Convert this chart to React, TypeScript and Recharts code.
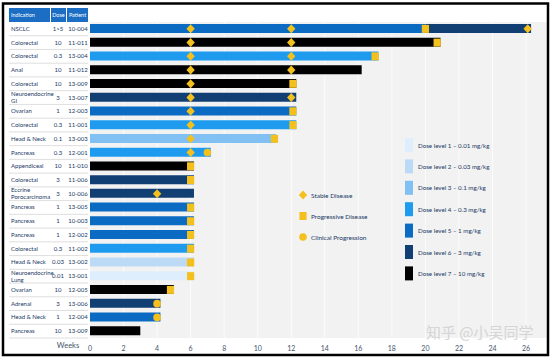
import { Bar, CartesianGrid, Cell, ComposedChart, Scatter, XAxis, YAxis } from 'recharts'

// one entry per patient row, top to bottom
const INDICATIONS = [
  'NSCLC', 'Colorectal', 'Colorectal', 'Anal', 'Colorectal', 'Neuroendocrine GI', 'Ovarian', 'Colorectal',
  'Head & Neck', 'Pancreas', 'Appendiceal', 'Colorectal', 'Eccrine Porocarcinoma', 'Pancreas', 'Pancreas',
  'Pancreas', 'Colorectal', 'Head & Neck', 'Neuroendocrine Lung', 'Ovarian', 'Adrenal', 'Head & Neck', 'Pancreas',
]
const DOSES = [
  '1>5', '10', '0.3', '10', '10', '3', '1', '0.3', '0.1', '0.3', '10', '3', '3', '1', '1', '1', '0.3', '0.03', '0.01',
  '10', '3', '1', '10',
]
const PATIENTS = [
  '10-004', '11-011', '13-004', '11-012', '13-009', '13-007', '12-003', '11-001', '13-003', '12-001', '11-010',
  '11-006', '10-006', '13-005', '10-003', '12-002', '11-002', '13-002', '13-001', '12-005', '13-006', '12-004', '13-009',
]
const DOSE_LEVELS = [5, 7, 4, 7, 7, 6, 5, 4, 3, 4, 7, 6, 6, 5, 5, 5, 4, 2, 1, 7, 6, 5, 7]
const WEEKS = [20, 20.9, 17.2, 16.2, 12.3, 12.3, 12.3, 12.3, 11.1, 7.2, 6.2, 6.2, 6.2, 6.2, 6.2, 6.2, 6.2, 6.2, 6.2, 5, 4.2, 4.2, 3]
// time after escalation to the next dose level (only 10-004)
const ESCALATED_WEEKS = [6.3, 0, 0, 0, 0, 0, 0, 0, 0, 0, 0, 0, 0, 0, 0, 0, 0, 0, 0, 0, 0, 0, 0]
const ESCALATED_LEVEL = 6

// [row, week]
const STABLE = [
  [0, 6], [0, 12], [0, 26.1], [1, 6], [1, 12], [2, 6], [2, 12], [3, 6], [3, 12], [4, 6], [5, 6], [5, 12],
  [6, 6], [7, 6], [8, 6], [9, 6], [12, 4],
]
const PROGRESSIVE = [
  [0, 20], [1, 20.7], [2, 17], [4, 12.1], [6, 12.1], [7, 12.1], [8, 11], [10, 6], [11, 6], [13, 6], [14, 6],
  [15, 6], [16, 6], [17, 6], [18, 6], [19, 4.8],
]
const CLINICAL = [[9, 7], [20, 4], [21, 4]]

const WEEK_TICKS = [0, 2, 4, 6, 8, 10, 12, 14, 16, 18, 20, 22, 24, 26]

const DOSE_LABELS = [
  'Dose level 1 – 0.01 mg/kg',
  'Dose level 2 – 0.03 mg/kg',
  'Dose level 3 – 0.1 mg/kg',
  'Dose level 4 – 0.3 mg/kg',
  'Dose level 5 – 1 mg/kg',
  'Dose level 6 – 3 mg/kg',
  'Dose level 7 – 10 mg/kg',
]
const DOSE_COLORS = ['#deeefc', '#bcdaf6', '#80c0f2', '#1e9bef', '#0b6bc2', '#123f73', '#000000']

const W = 554
const H = 360
const TOP = 22
const BOTTOM = 22
const LEFT = 90
const RIGHT = 7
const BAND = (H - TOP - BOTTOM) / INDICATIONS.length
const GOLD = '#f4c01e'
const NAVY_TEXT = '#203864'
const FONT = 'Lato, "Open Sans", sans-serif'

const rows = INDICATIONS.map((_, i) => ({
  row: String(i),
  weeks: WEEKS[i],
  extra: ESCALATED_WEEKS[i],
}))
const toPoints = (list: number[][]) => list.map(([r, w]) => ({ row: String(r), week: w }))

const Diamond = ({ cx, cy }: any) => (
  <polygon points={`${cx},${cy - 4.5} ${cx + 4.2},${cy} ${cx},${cy + 4.5} ${cx - 4.2},${cy}`} fill={GOLD} />
)
const Square = ({ cx, cy }: any) => <rect x={cx - 3.6} y={cy - 4} width={7.2} height={8} fill={GOLD} />
const Dot = ({ cx, cy }: any) => <circle cx={cx} cy={cy} r={3.8} fill={GOLD} />

const TableTick = ({ y, payload }: any) => {
  const i = Number(payload.value)
  const parts = INDICATIONS[i].split(' ')
  const twoLine = parts.length === 2 && INDICATIONS[i].length > 14
  return (
    <g fontFamily={FONT} fontSize={6} fill={NAVY_TEXT}>
      {twoLine ? (
        <text x={11} y={y}>
          <tspan x={11} dy={-1.5}>{parts[0]}</tspan>
          <tspan x={11} dy={7}>{parts[1]}</tspan>
        </text>
      ) : (
        <text x={11} y={y} dy={2}>{INDICATIONS[i]}</text>
      )}
      <text x={58} y={y} dy={2} textAnchor="middle">{DOSES[i]}</text>
      <text x={78} y={y} dy={2} textAnchor="middle">{PATIENTS[i]}</text>
      <line x1={9} x2={88} y1={y + BAND / 2} y2={y + BAND / 2} stroke="#d6d6d6" strokeWidth={0.8} />
    </g>
  )
}

const Overlay = () => (
  <svg width={W} height={H} style={{ position: 'absolute', left: 0, top: 0, pointerEvents: 'none' }}>
    <g fontFamily={FONT}>
      <rect x={9} y={8} width={41} height={14} fill="#1b6ec4" />
      <rect x={51} y={8} width={15} height={14} fill="#1b6ec4" />
      <rect x={67} y={8} width={21} height={14} fill="#1b6ec4" />
      <text x={11} y={17} fontSize={5.5} fill="#fff">Indication</text>
      <text x={58.5} y={17} fontSize={5.5} fill="#fff" textAnchor="middle">Dose</text>
      <text x={77.5} y={17} fontSize={5.5} fill="#fff" textAnchor="middle">Patient</text>
      <text x={68} y={348} fontSize={7.5} fill="#44546a" textAnchor="middle">Weeks</text>

      <Diamond cx={303} cy={195} />
      <Square cx={303} cy={216} />
      <Dot cx={303} cy={237} />
      <text x={311} y={197.5} fontSize={6.5} fill={NAVY_TEXT}>Stable Disease</text>
      <text x={311} y={218.5} fontSize={6.5} fill={NAVY_TEXT}>Progressive Disease</text>
      <text x={311} y={239.5} fontSize={6.5} fill={NAVY_TEXT}>Clinical Progression</text>

      {DOSE_LABELS.map((label, k) => (
        <g key={label}>
          <rect x={405} y={138 + k * 21.4} width={8} height={14} fill={DOSE_COLORS[k]} />
          <text x={418} y={147.5 + k * 21.4} fontSize={6.2} fill={NAVY_TEXT}>{label}</text>
        </g>
      ))}

      <text x={426} y={338} fontSize={15} fill="#d2d2d2" fontFamily='"Noto Sans CJK SC", sans-serif' opacity={0.9}>
        知乎 @小吴同学
      </text>
    </g>
    <rect x={3} y={3.5} width={545} height={351.5} fill="none" stroke="#000" strokeWidth={2.5} />
  </svg>
)

const App = () => {
  return (
    <div style={{ position: 'absolute', left: 0, top: 0, width: W, height: H, background: '#fff' }}>
      <ComposedChart
        width={W}
        height={H}
        layout="vertical"
        data={rows}
        margin={{ top: TOP, right: RIGHT, left: 0, bottom: 0 }}
        barCategoryGap={0}
      >
        <CartesianGrid fill="#f2f2f2" stroke="#fbfbfb" horizontal={false} vertical />
        <XAxis
          type="number"
          domain={[0, 27.25]}
          ticks={WEEK_TICKS}
          allowDataOverflow
          axisLine={false}
          tickLine={false}
          tick={{ fill: '#44546a', fontSize: 7, fontFamily: FONT }}
          tickMargin={2}
          height={BOTTOM}
        />
        <YAxis
          type="category"
          dataKey="row"
          allowDuplicatedCategory={false}
          width={LEFT}
          axisLine={false}
          tickLine={false}
          tick={<TableTick />}
          interval={0}
        />
        <Bar dataKey="weeks" stackId="s" barSize={9} isAnimationActive={false}>
          {rows.map((r, i) => (
            <Cell key={r.row} fill={DOSE_COLORS[DOSE_LEVELS[i] - 1]} />
          ))}
        </Bar>
        <Bar dataKey="extra" stackId="s" barSize={9} fill={DOSE_COLORS[ESCALATED_LEVEL - 1]} isAnimationActive={false} />
        <Scatter data={toPoints(STABLE)} dataKey="week" shape={<Diamond />} isAnimationActive={false} />
        <Scatter data={toPoints(PROGRESSIVE)} dataKey="week" shape={<Square />} isAnimationActive={false} />
        <Scatter data={toPoints(CLINICAL)} dataKey="week" shape={<Dot />} isAnimationActive={false} />
      </ComposedChart>
      <Overlay />
    </div>
  )
}

export default App
